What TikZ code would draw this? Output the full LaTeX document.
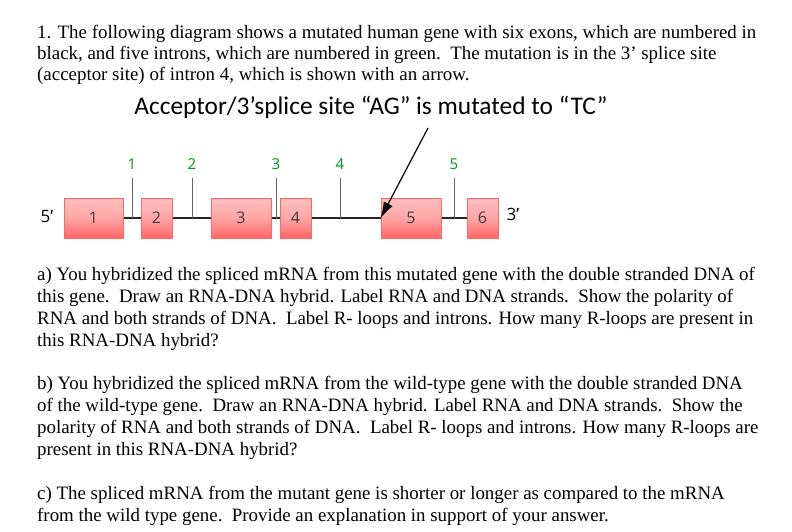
\documentclass[tikz,border=0pt]{standalone}
\usepackage{fontspec}
\usetikzlibrary{arrows.meta}
\setmainfont{Liberation Serif}
\newfontfamily\calib{Carlito}
\newfontfamily\sansf{Open Sans}
\begin{document}
\begin{tikzpicture}[x=1pt,y=-1pt,
  txt/.style={anchor=base west,inner sep=0,font=\fontsize{18.9}{20}\selectfont},
  exon/.style={draw=red!60!white,line width=0.6pt,top color=red!25!white,bottom color=red!60!white,middle color=red!35!white,inner sep=0},
  exnum/.style={font=\sansf\fontsize{16}{18}\selectfont,text=black!75},
  intr/.style={font=\sansf\fontsize{15}{17}\selectfont,text=green!60!black!80!teal},
  tick/.style={draw=gray!80!black,line width=0.8pt}]
\useasboundingbox (0,0) rectangle (792,532);
\fill[white] (0,0) rectangle (792,532);
% text
\node[txt] (t1) at (37,39) {1. The following diagram shows a mutated human gene with six exons, which are numbered in};
\node[txt] (t2) at (37,60) {black, and five introns, which are numbered in green.\ \ The mutation is in the 3’ splice site};
\node[txt] (t3) at (37,81) {(acceptor site) of intron 4, which is shown with an arrow.};
\node[anchor=center,font=\calib\fontsize{25.4}{27}\selectfont] (title) at (371,107) {Acceptor/3’splice site “AG” is mutated to “TC”};
% gene line
\draw[line width=1.6pt,black!85] (123,218) -- (467,218);
\node[exon,minimum width=59pt,minimum height=40pt] (e1) at (93.5,218) {};
\node[exon,minimum width=31pt,minimum height=40pt] (e2) at (156.5,218) {};
\node[exon,minimum width=60pt,minimum height=40pt] (e3) at (241,218) {};
\node[exon,minimum width=31pt,minimum height=40pt] (e4) at (295.5,218) {};
\node[exon,minimum width=60pt,minimum height=40pt] (e5) at (411,218) {};
\node[exon,minimum width=31pt,minimum height=40pt] (e6) at (482.5,218) {};
\foreach \e/\n in {e1/1,e2/2,e3/3,e4/4,e5/5,e6/6}{\node[exnum] at (\e) {\n};}
\foreach \x/\n in {132/1,192/2,276/3,340/4,454/5}{
  \draw[tick] (\x,218) -- (\x,178);
  \node[intr] (i\n) at (\x,164) {\n};}
\node[font=\sansf\fontsize{17}{19}\selectfont] (p5) at (47,217) {5’};
\node[font=\sansf\fontsize{17}{19}\selectfont] (p3) at (513,214) {3’};
\coordinate (astart) at (428,128);
\draw[line width=1.2pt,-{Latex[length=16pt,width=10pt]}] (astart) -- (e5.west);
% questions
\node[txt] at (37,280) {a) You hybridized the spliced mRNA from this mutated gene with the double stranded DNA of};
\node[txt] at (37,302) {this gene.\ \ Draw an RNA-DNA hybrid. Label RNA and DNA strands.\ \ Show the polarity of};
\node[txt] at (37,324) {RNA and both strands of DNA.\ \ Label R- loops and introns. How many R-loops are present in};
\node[txt] at (37,346) {this RNA-DNA hybrid?};
\node[txt] at (37,389) {b) You hybridized the spliced mRNA from the wild-type gene with the double stranded DNA};
\node[txt] at (37,411) {of the wild-type gene.\ \ Draw an RNA-DNA hybrid. Label RNA and DNA strands.\ \ Show the};
\node[txt] at (37,433) {polarity of RNA and both strands of DNA.\ \ Label R- loops and introns. How many R-loops are};
\node[txt] at (37,455) {present in this RNA-DNA hybrid?};
\node[txt] at (37,499) {c) The spliced mRNA from the mutant gene is shorter or longer as compared to the mRNA};
\node[txt] at (37,521) {from the wild type gene.\ \ Provide an explanation in support of your answer.};
\end{tikzpicture}
\end{document}
